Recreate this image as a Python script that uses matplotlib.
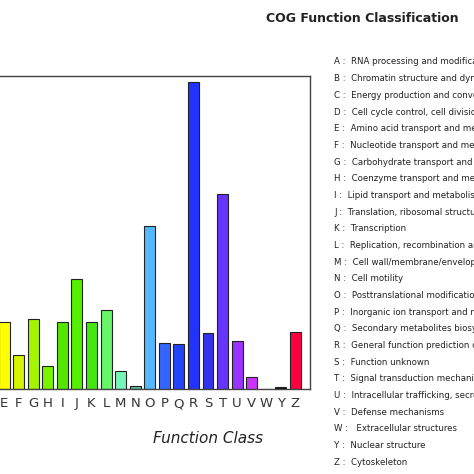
import matplotlib
matplotlib.use("Agg")
import matplotlib.pyplot as plt

# COG classes (A-D lie outside the visible crop; values there are estimates)
classes = list("ABCDEFGHIJKLMNOPQRSTUVWYZ")
counts = [30, 45, 80, 40, 67, 34, 70, 23, 67, 110, 67, 79, 18, 3, 163,
          46, 45, 307, 56, 195, 48, 12, 0, 2, 57]
colors = ["#ff2020", "#ff7f00", "#ffbf00", "#ffe600", "#ffff00", "#d4f500",
          "#a6f500", "#7af500", "#55e600", "#55f000", "#44e811", "#66f566",
          "#77f5b8", "#55bb99", "#55b8ff", "#3366ff", "#2244ff", "#2233ff",
          "#3333ee", "#6633ff", "#9933ff", "#cc33ff", "#aa00aa", "#111111",
          "#ff0040"]
descriptions = [
    "RNA processing and modification",
    "Chromatin structure and dynamics",
    "Energy production and conversion",
    "Cell cycle control, cell division, chromosome partitioning",
    "Amino acid transport and metabolism",
    "Nucleotide transport and metabolism",
    "Carbohydrate transport and metabolism",
    "Coenzyme transport and metabolism",
    "Lipid transport and metabolism",
    "Translation, ribosomal structure and biogenesis",
    "Transcription",
    "Replication, recombination and repair",
    "Cell wall/membrane/envelope biogenesis",
    "Cell motility",
    "Posttranslational modification, protein turnover, chaperones",
    "Inorganic ion transport and metabolism",
    "Secondary metabolites biosynthesis, transport and catabolism",
    "General function prediction only",
    "Function unknown",
    "Signal transduction mechanisms",
    "Intracellular trafficking, secretion, and vesicular transport",
    "Defense mechanisms",
    " Extracellular structures",
    "Nuclear structure",
    "Cytoskeleton",
]

fig = plt.figure(figsize=(4.74, 4.74), dpi=100)
ax = fig.add_axes([-0.145, 0.179, 0.799, 0.661])
x = range(len(classes))
ax.bar(x, counts, width=0.75, color=colors, edgecolor="#222222", linewidth=0.8)
ax.set_xlim(-1.0, 25.0)
ax.set_ylim(0, 313)
ax.set_xticks(list(x))
# A-D fall left of the cropped picture
ax.set_xticklabels(["" if i < 4 else c for i, c in enumerate(classes)],
                   fontsize=9.5, color="#333333")
ax.tick_params(axis="x", length=0, pad=6)
ax.set_yticks([])
for s in ax.spines.values():
    s.set_color("#444444")
    s.set_linewidth(1)

fig.text(0.44, 0.075, "Function Class", style="italic", fontsize=11,
         ha="center", va="center", color="#222222")
fig.text(0.765, 0.962, "COG Function Classification", fontweight="bold",
         fontsize=9, ha="center", va="center", color="#222222")

y0, dy = 474 - 62, 16.67
for i, (c, d) in enumerate(zip(classes, descriptions)):
    fig.text(334 / 474, (y0 - i * dy) / 474, f"{c} :  {d}", fontsize=6.2,
             ha="left", va="center", color="#222222")

fig.savefig("out.png", dpi=100)
